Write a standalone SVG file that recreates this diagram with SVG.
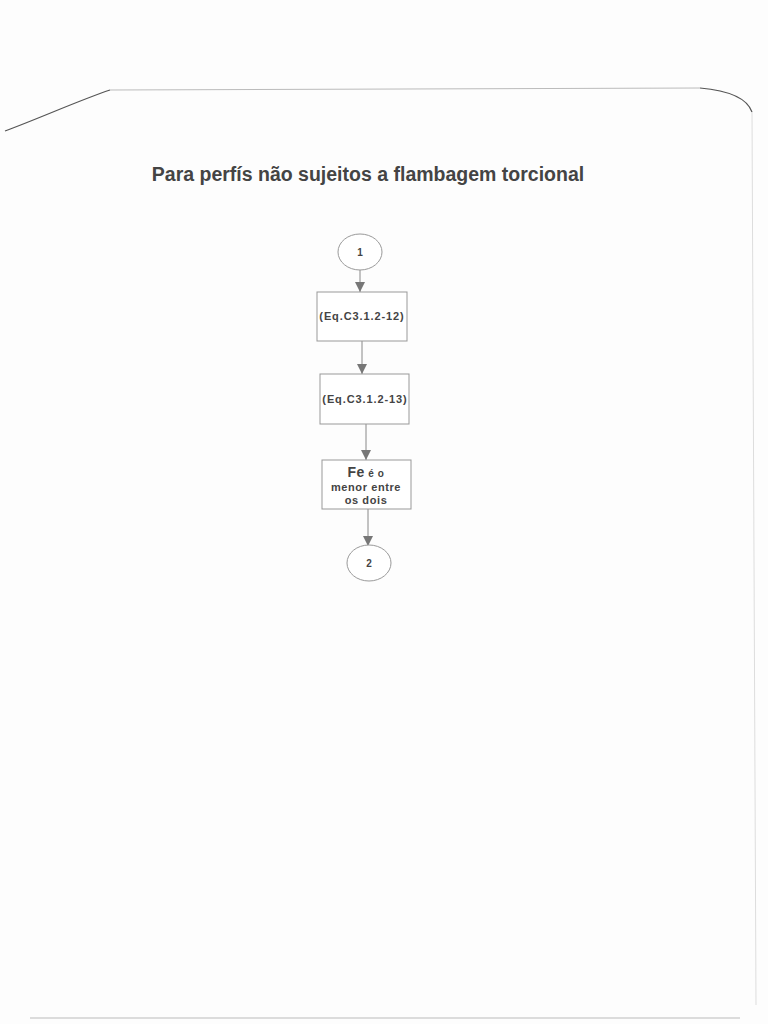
<svg xmlns="http://www.w3.org/2000/svg" width="768" height="1024" viewBox="0 0 768 1024">
<defs>
<marker id="ah" viewBox="0 0 10 10" refX="10" refY="5" markerWidth="10" markerHeight="10" markerUnits="userSpaceOnUse" orient="auto">
<path d="M0,0 L10,5 L0,10 z" fill="#777"/>
</marker>
<style>
.node{fill:#fff;stroke:#999;stroke-width:1}
.lbl{font-family:"Liberation Sans",Arial,sans-serif;font-weight:bold;fill:#444;text-anchor:middle}
.edge{stroke:#888;stroke-width:1;fill:none;marker-end:url(#ah)}
</style>
</defs>
<rect width="768" height="1024" fill="#fdfdfd"/>
<g id="paper" fill="none">
<path d="M5,131 C40,118 80,100 110,90" stroke="#555" stroke-width="1.2"/>
<path d="M110,90 L700,88" stroke="#bbb" stroke-width="1"/>
<path d="M700,88 Q745,92 752,112" stroke="#555" stroke-width="1.2"/>
<path d="M752,112 L756,1005" stroke="#ddd" stroke-width="1"/>
<path d="M30,1018 L740,1018" stroke="#bbb" stroke-width="1"/>
</g>
<text class="lbl" x="368" y="181" font-size="19.5" fill="#3a3a3a">Para perfís não sujeitos a flambagem torcional</text>
<g id="connectors">
<line class="edge" x1="360" y1="270" x2="360" y2="292"/>
<line class="edge" x1="362" y1="341" x2="362" y2="374"/>
<line class="edge" x1="366" y1="424" x2="366" y2="460"/>
<line class="edge" x1="368" y1="509" x2="368" y2="546"/>
</g>
<g id="start">
<ellipse class="node" cx="360" cy="252" rx="22" ry="18"/>
<text class="lbl" x="360" y="256" font-size="10">1</text>
</g>
<g id="eq12">
<rect class="node" x="317" y="292" width="90" height="49"/>
<text class="lbl" x="362" y="320" font-size="11" letter-spacing="0.9">(Eq.C3.1.2-12)</text>
</g>
<g id="eq13">
<rect class="node" x="320" y="374" width="89" height="50"/>
<text class="lbl" x="365" y="403" font-size="11" letter-spacing="0.9">(Eq.C3.1.2-13)</text>
</g>
<g id="fe">
<rect class="node" x="322" y="460" width="89" height="49"/>
<text class="lbl" x="366" y="477" font-size="10" letter-spacing="0.6"><tspan font-size="14">Fe</tspan> é o</text>
<text class="lbl" x="366" y="491" font-size="11" letter-spacing="0.6">menor entre</text>
<text class="lbl" x="366" y="504" font-size="11" letter-spacing="0.6">os dois</text>
</g>
<g id="end">
<ellipse class="node" cx="369" cy="563" rx="22" ry="18"/>
<text class="lbl" x="369" y="567" font-size="10">2</text>
</g>
</svg>
